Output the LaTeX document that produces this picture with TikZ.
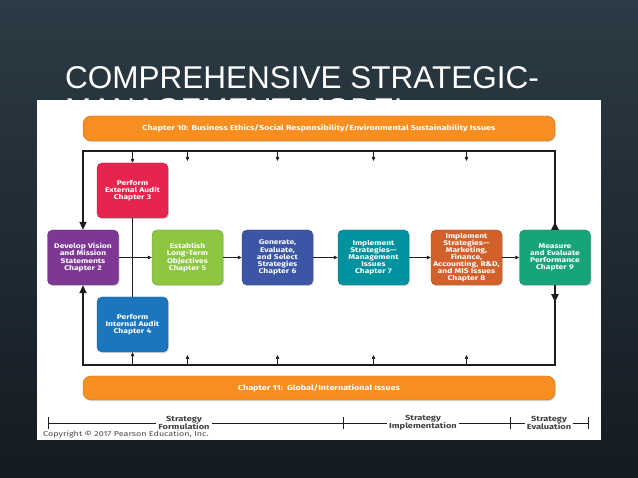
\documentclass[tikz,border=0pt]{standalone}
\usepackage{fontspec}
\setmainfont{Liberation Sans}
\newfontfamily\boxfont[FakeStretch=1.25]{Fira Sans}
\usetikzlibrary{positioning}
\usetikzlibrary{arrows.meta, shadows}

\definecolor{slidetop}{RGB}{44,59,69}
\definecolor{slidebot}{RGB}{20,27,34}
\definecolor{barorange}{RGB}{246,142,32}
\definecolor{extred}{RGB}{230,36,80}
\definecolor{visionpurple}{RGB}{125,56,150}
\definecolor{objgreen}{RGB}{141,198,63}
\definecolor{stratblue}{RGB}{60,86,165}
\definecolor{mgmtteal}{RGB}{0,146,158}
\definecolor{mktorange}{RGB}{210,96,42}
\definecolor{evalgreen}{RGB}{24,164,122}
\definecolor{intblue}{RGB}{28,118,190}
\definecolor{linegray}{RGB}{30,30,30}

\tikzset{
  stage/.style={rounded corners=5pt, minimum width=71pt, minimum height=55pt,
    inner sep=0pt, text width=70pt, align=center, text=white,
    draw=#1!80!black, fill=#1, line width=0.4pt,
    font=\boxfont\bfseries\fontsize{6.8}{7.1}\selectfont,
    drop shadow={shadow xshift=1pt, shadow yshift=-1.2pt, opacity=0.3}},
  issuebar/.style={rounded corners=8pt, minimum width=472pt, inner sep=0pt,
    fill=barorange, draw=barorange!80!black, line width=0.4pt, text=white,
    font=\boxfont\bfseries\fontsize{7.2}{8}\selectfont,
    drop shadow={shadow xshift=1pt, shadow yshift=-1.2pt, opacity=0.3}},
  frame/.style={draw=linegray, line width=1.8pt},
  bigtip/.style={-{Triangle[length=8pt,width=7pt]}},
  flow/.style={draw=linegray, line width=0.7pt},
  smalltip/.style={-{Triangle[length=4pt,width=3.5pt]}},
  phase/.style={fill=white, inner sep=2pt, align=center, text=black!75,
    font=\boxfont\bfseries\fontsize{7.4}{8}\selectfont},
  title/.style={text=white, inner sep=0pt, anchor=base west,
    font=\fontsize{31.5}{32}\selectfont}
}

\begin{document}
\begin{tikzpicture}[x=1pt,y=-1pt]
\useasboundingbox (0,0) rectangle (638,478);
\shade[top color=slidetop, bottom color=slidebot] (0,0) rectangle (638,478);

\node[title] (title1) at (65,89) {COMPREHENSIVE STRATEGIC-};
\node[title] (title2) at (65,120.5) {MANAGEMENT MODEL};

\fill[white] (37,100) rectangle (601,440);

% issue bars
\node[issuebar, minimum height=25pt] (ethics) at (319,128.5) {Chapter 10: Business Ethics/Social Responsibility/Environmental Sustainability Issues};
\node[issuebar, minimum height=24pt] (global) at (319,388) {Chapter 11:\ \ Global/International Issues};

% stages
\node[stage=visionpurple] (vision) at (83,257.5) {Develop Vision\\and Mission\\Statements\\Chapter 2};
\node[stage=extred] (extaudit) at (132.5,190.5) {Perform\\External Audit\\Chapter 3};
\node[stage=intblue] (intaudit) at (132.5,324.5) {Perform\\Internal Audit\\Chapter 4};
\node[stage=objgreen] (objectives) at (187.5,257.5) {Establish\\Long-Term\\Objectives\\Chapter 5};
\node[stage=stratblue] (strategies) at (277.5,257.5) {Generate,\\Evaluate,\\and Select\\Strategies\\Chapter 6};
\node[stage=mgmtteal] (mgmt) at (373.5,257.5) {Implement\\Strategies—\\Management\\Issues\\Chapter 7};
\node[stage=mktorange] (marketing) at (466.5,257.5) {Implement\\Strategies—\\Marketing,\\Finance,\\Accounting, R\&D,\\and MIS Issues\\Chapter 8};
\node[stage=evalgreen] (evaluate) at (555,257.5) {Measure\\and Evaluate\\Performance\\Chapter 9};

% feedback frame
\coordinate (tl) at (83,151);
\coordinate (tr) at (555,151);
\coordinate (bl) at (83,365);
\coordinate (br) at (555,365);
\draw[frame, bigtip] (evaluate.north) -- (tr) -- (tl) -- (vision.north);
\draw[frame, bigtip] (evaluate.north) -- ++(0,-8);
\draw[frame, bigtip] (evaluate.south) -- (br) -- (bl) -- (vision.south);
\draw[frame, bigtip] (evaluate.south) -- ++(0,17);

% main flow
\draw[flow] (extaudit) -- (intaudit);
\draw[flow, smalltip] (vision) -- (objectives);
\draw[flow, smalltip] (objectives) -- (strategies);
\draw[flow, smalltip] (strategies) -- (mgmt);
\draw[flow, smalltip] (mgmt) -- (marketing);
\draw[flow, smalltip] (marketing) -- (evaluate);

% arrows off the frame
\draw[flow, smalltip] (extaudit |- tl) -- (extaudit.north);
\draw[flow, smalltip] (objectives |- tl) -- ++(0,10);
\draw[flow, smalltip] (strategies |- tl) -- ++(0,10);
\draw[flow, smalltip] (mgmt |- tl) -- ++(0,10);
\draw[flow, smalltip] (marketing |- tl) -- ++(0,10);
\draw[flow, smalltip] (intaudit |- bl) -- (intaudit.south);
\draw[flow, smalltip] (objectives |- bl) -- ++(0,-10);
\draw[flow, smalltip] (strategies |- bl) -- ++(0,-10);
\draw[flow, smalltip] (mgmt |- bl) -- ++(0,-10);
\draw[flow, smalltip] (marketing |- bl) -- ++(0,-10);

% phases
\coordinate (t0) at (48,423);
\coordinate (t1) at (343,423);
\coordinate (t2) at (510,423);
\coordinate (t3) at (588,423);
\draw[flow, line width=0.8pt] (t0) -- (t3);
\draw[flow, line width=0.8pt] ([yshift=-6pt]t0) -- ([yshift=6pt]t0);
\draw[flow, line width=0.8pt] ([yshift=-6pt]t1) -- ([yshift=6pt]t1);
\draw[flow, line width=0.8pt] ([yshift=-6pt]t2) -- ([yshift=6pt]t2);
\draw[flow, line width=0.8pt] ([yshift=-6pt]t3) -- ([yshift=6pt]t3);
\node[phase] (formulation) at (184,423) {Strategy\\Formulation};
\node[phase] (implementation) at (423,423) {Strategy\\Implementation};
\node[phase] (evaluation) at (549,423) {Strategy\\Evaluation};

\node[anchor=base west, inner sep=0pt, text=black!70, font=\boxfont\fontsize{7.2}{8}\selectfont] (copyright) at (43,437) {Copyright \textcopyright{} 2017 Pearson Education, Inc.};
\end{tikzpicture}
\end{document}
